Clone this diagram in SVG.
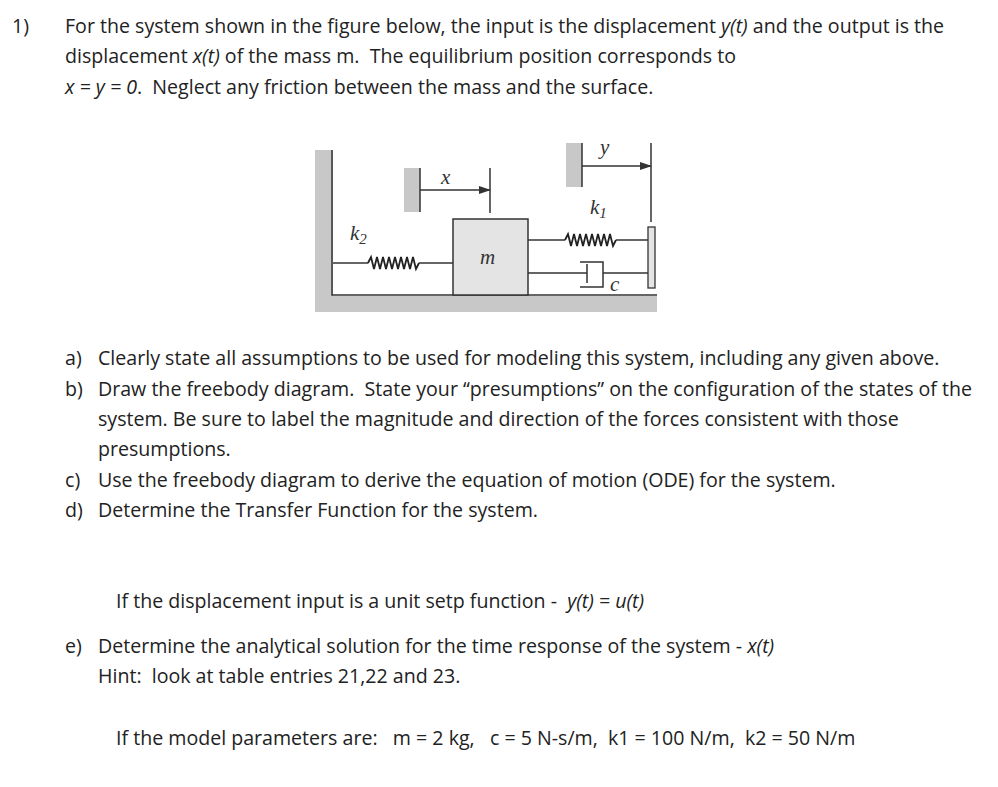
<svg xmlns="http://www.w3.org/2000/svg" width="998" height="787" viewBox="0 0 998 787">
<style>
text{font-family:"Open Sans","Liberation Sans",sans-serif;font-size:19.6px;fill:#222;white-space:pre}
.m{font-family:"Liberation Serif",serif;font-style:italic;font-size:21px;fill:#333}
.g{fill:#c8c8c8}
.l{stroke:#333;stroke-width:1.5;fill:none}
.s{stroke:#222;stroke-width:1.8;fill:none}
</style>
<defs><marker id="a" markerWidth="12" markerHeight="8" refX="11" refY="4" orient="auto" markerUnits="userSpaceOnUse"><path d="M0,0 L12,4 L0,8 Z" fill="#333"/></marker></defs>
<rect width="998" height="787" fill="#fff"/>
<text x="12" y="33">1)</text>
<text x="65" y="33">For the system shown in the figure below, the input is the displacement <tspan font-style="italic">y(t)</tspan> and the output is the</text>
<text x="65" y="63">displacement <tspan font-style="italic">x(t)</tspan> of the mass m.  The equilibrium position corresponds to</text>
<text x="65" y="94"><tspan font-style="italic">x = y = 0</tspan>.  Neglect any friction between the mass and the surface.</text>
<g id="ground"><rect class="g" x="315" y="150" width="18" height="162"/><rect class="g" x="315" y="296" width="342" height="16"/><path class="l" d="M332,150 V295 H657"/></g>
<g id="mass"><rect x="453" y="219" width="75" height="76" fill="#e4e4e4" stroke="#333" stroke-width="1.5"/><text class="m" x="480" y="264">m</text></g>
<g id="xref"><rect class="g" x="404" y="168" width="16" height="44"/><line class="l" x1="420" y1="168" x2="420" y2="212"/><line class="l" x1="420" y1="190" x2="490" y2="190" marker-end="url(#a)"/><line class="l" x1="490" y1="168" x2="490" y2="213"/><text class="m" x="441" y="184">x</text></g>
<g id="yref"><rect class="g" x="566" y="143" width="16" height="44"/><line class="l" x1="582" y1="143" x2="582" y2="187"/><line class="l" x1="582" y1="166" x2="651" y2="166" marker-end="url(#a)"/><line class="l" x1="651" y1="143" x2="651" y2="222"/><text class="m" x="600" y="154">y</text></g>
<g id="plate"><rect x="648" y="227" width="7" height="61" fill="#e4e4e4" stroke="#333" stroke-width="1.3"/></g>
<g id="connectors">
<path class="l" d="M333,263 H368"/><path class="s" d="M368,263 l3,-6 l3,12 l3,-12 l3,12 l3,-12 l3,12 l3,-12 l3,12 l3,-12 l3,12 l3,-12 l3,12 l3,-12 l3,12 l3,-12 l3,12 l3,-6"/><path class="l" d="M419,263 H453"/>
<path class="l" d="M528,240 H565"/><path class="s" d="M565,240 l3,-6 l3,12 l3,-12 l3,12 l3,-12 l3,12 l3,-12 l3,12 l3,-12 l3,12 l3,-12 l3,12 l3,-12 l3,12 l3,-12 l3,12 l3,-6"/><path class="l" d="M616,240 H648"/>
<path class="l" d="M528,273 H587 M587,264 V283 M580,262 H603 V287 H580 M603,273 H648"/>
</g>
<text class="m" x="350" y="240">k<tspan font-size="15" dy="4">2</tspan></text>
<text class="m" x="590" y="214">k<tspan font-size="15" dy="4">1</tspan></text>
<text class="m" x="610" y="291">c</text>
<text x="65" y="365">a)</text><text x="98" y="365">Clearly state all assumptions to be used for modeling this system, including any given above.</text>
<text x="65" y="396">b)</text><text x="98" y="396">Draw the freebody diagram.  State your “presumptions” on the configuration of the states of the</text>
<text x="98" y="426">system. Be sure to label the magnitude and direction of the forces consistent with those</text>
<text x="98" y="456">presumptions.</text>
<text x="65" y="487">c)</text><text x="98" y="487">Use the freebody diagram to derive the equation of motion (ODE) for the system.</text>
<text x="65" y="517">d)</text><text x="98" y="517">Determine the Transfer Function for the system.</text>
<text x="116" y="608">If the displacement input is a unit setp function -  <tspan font-style="italic">y(t) = u(t)</tspan></text>
<text x="65" y="653">e)</text><text x="98" y="653">Determine the analytical solution for the time response of the system - <tspan font-style="italic">x(t)</tspan></text>
<text x="98" y="683">Hint:  look at table entries 21,22 and 23.</text>
<text x="116" y="745">If the model parameters are:   m = 2 kg,   c = 5 N-s/m,  k1 = 100 N/m,  k2 = 50 N/m</text>
</svg>
